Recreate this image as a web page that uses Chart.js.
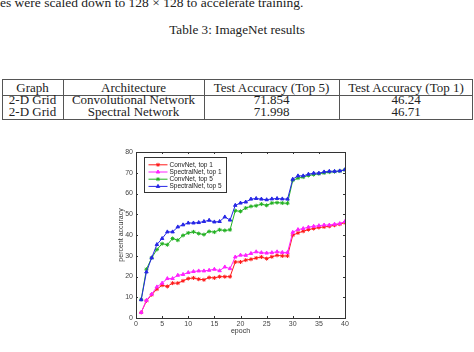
<!DOCTYPE html>
<html>
<head>
<meta charset="utf-8">
<script src="https://cdn.jsdelivr.net/npm/chart.js@4"></script>
<style>
body { margin:0; width:474px; height:352px; overflow:hidden; background:#fff; position:relative;
  font-family:"Liberation Serif","Times New Roman",serif; color:#222; }
.t { position:absolute; white-space:nowrap; font-size:13px; line-height:13px; }
.c { text-align:center; }
.hl { position:absolute; height:0; border-top:1px solid #555; left:2px; width:471px; }
.vl { position:absolute; width:0; border-left:1px solid #555; top:79px; height:40px; }
#chart { position:absolute; left:100px; top:140px; }
</style>
</head>
<body>
<div class="t" style="left:0; top:-4px; font-size:13.5px;">es were scaled down to 128 × 128 to accelerate training.</div>
<div class="t c" style="left:0; width:474px; top:23px; font-size:13.2px;">Table 3: ImageNet results</div>

<div class="hl" style="top:79px;"></div>
<div class="hl" style="top:95px;"></div>
<div class="hl" style="top:119px;"></div>
<div class="vl" style="left:2px;"></div>
<div class="vl" style="left:63px;"></div>
<div class="vl" style="left:204px;"></div>
<div class="vl" style="left:339px;"></div>
<div class="vl" style="left:472px;"></div>

<div class="t c" style="left:2px; width:61px; top:81px;">Graph</div>
<div class="t c" style="left:63px; width:141px; top:81px;">Architecture</div>
<div class="t c" style="left:204px; width:135px; top:81px;">Test Accuracy (Top 5)</div>
<div class="t c" style="left:339px; width:134px; top:81px;">Test Accuracy (Top 1)</div>

<div class="t c" style="left:2px; width:61px; top:93px;">2-D Grid</div>
<div class="t c" style="left:63px; width:141px; top:93px;">Convolutional Network</div>
<div class="t c" style="left:204px; width:135px; top:93px;">71.854</div>
<div class="t c" style="left:339px; width:134px; top:93px;">46.24</div>

<div class="t c" style="left:2px; width:61px; top:105px;">2-D Grid</div>
<div class="t c" style="left:63px; width:141px; top:105px;">Spectral Network</div>
<div class="t c" style="left:204px; width:135px; top:105px;">71.998</div>
<div class="t c" style="left:339px; width:134px; top:105px;">46.71</div>

<canvas id="chart" width="260" height="199"></canvas>

<script>
var epochs = [1, 2, 3, 4, 5, 6, 7, 8, 9, 10, 11, 12, 13, 14, 15, 16, 17, 18, 19, 20,
  21, 22, 23, 24, 25, 26, 27, 28, 29, 30, 31, 32, 33, 34, 35, 36, 37, 38, 39, 40];

var convTop1 = [2.7, 8.3, 11.2, 13.9, 15.8, 15.2, 16.8, 16.8, 17.9, 19.0,
  19.3, 18.7, 18.4, 19.5, 19.3, 19.9, 19.9, 19.9, 27.0, 27.0,
  27.9, 28.3, 28.9, 29.4, 28.6, 29.5, 30.2, 29.9, 29.9, 39.9,
  41.0, 41.8, 42.6, 43.1, 43.6, 43.9, 44.2, 44.7, 45.2, 46.0];

var specTop1 = [2.7, 8.5, 11.5, 15.0, 16.8, 19.0, 19.0, 20.6, 21.0, 21.9,
  22.4, 22.7, 22.7, 23.0, 23.5, 22.8, 24.6, 23.8, 29.4, 30.3,
  30.2, 31.1, 31.9, 31.5, 31.3, 31.5, 31.9, 31.6, 31.6, 41.3,
  42.6, 43.1, 43.8, 44.2, 44.5, 44.8, 44.8, 45.2, 45.5, 46.5];

var convTop5 = [9.0, 23.5, 29.0, 33.0, 35.8, 35.3, 38.3, 37.5, 39.8, 41.0,
  41.5, 40.7, 40.2, 41.7, 41.4, 42.5, 42.2, 42.5, 51.7, 51.4,
  53.0, 53.8, 54.1, 54.9, 54.3, 55.4, 55.6, 55.4, 55.3, 66.3,
  67.4, 67.9, 68.7, 69.1, 69.5, 69.9, 70.3, 70.5, 70.8, 71.4];

var specTop5 = [8.8, 22.2, 29.0, 35.4, 38.3, 41.5, 41.5, 43.9, 44.9, 45.8,
  45.8, 46.0, 46.5, 47.1, 46.3, 46.5, 48.7, 47.2, 54.3, 55.4,
  55.9, 57.3, 57.6, 57.3, 57.0, 57.4, 57.6, 57.4, 57.3, 66.9,
  68.5, 68.5, 69.3, 69.8, 69.8, 70.4, 70.7, 70.7, 70.9, 71.5];

var seriesLabels = ["ConvNet, top 1", "SpectralNet, top 1", "ConvNet, top 5", "SpectralNet, top 5"];
var seriesColors = ["#ff1a1a", "#ff22ff", "#22b022", "#2626e6"];
var seriesMarkers = ["star", "triangle", "star", "triangle"];
var seriesValues = [convTop1, specTop1, convTop5, specTop5];

function points(arr) {
  return epochs.map(function (e, i) { return { x: e, y: arr[i] }; });
}

var datasets = seriesValues.map(function (vals, i) {
  return {
    label: seriesLabels[i],
    data: points(vals),
    borderColor: seriesColors[i],
    backgroundColor: seriesColors[i],
    borderWidth: 1,
    pointStyle: seriesMarkers[i],
    pointRadius: 2,
    pointBorderWidth: 1,
    tension: 0,
    fill: false,
    order: 3 - i
  };
});

// box round the axes, inward ticks, and the legend inside the plot
var framePlugin = {
  id: "frame",
  afterDraw: function (chart) {
    var ctx = chart.ctx, a = chart.chartArea, sx = chart.scales.x, sy = chart.scales.y;
    ctx.save();
    ctx.strokeStyle = "#333";
    ctx.lineWidth = 1;
    ctx.strokeRect(Math.round(a.left) + 0.5, Math.round(a.top) + 0.5,
      Math.round(a.right - a.left), Math.round(a.bottom - a.top));
    ctx.beginPath();
    sx.ticks.forEach(function (t) {
      var px = Math.round(sx.getPixelForValue(t.value)) + 0.5;
      ctx.moveTo(px, a.bottom); ctx.lineTo(px, a.bottom - 2);
      ctx.moveTo(px, a.top); ctx.lineTo(px, a.top + 2);
    });
    sy.ticks.forEach(function (t) {
      var py = Math.round(sy.getPixelForValue(t.value)) + 0.5;
      ctx.moveTo(a.left, py); ctx.lineTo(a.left + 2, py);
      ctx.moveTo(a.right, py); ctx.lineTo(a.right - 2, py);
    });
    ctx.stroke();

    var bx = Math.round(a.left + 8) + 0.5, by = Math.round(a.top + 5) + 0.5;
    ctx.fillStyle = "#fff";
    ctx.fillRect(bx, by, 82, 35);
    ctx.strokeStyle = "#333";
    ctx.strokeRect(bx, by, 82, 35);
    ctx.font = "6.5px 'Liberation Sans', Arial, sans-serif";
    ctx.textBaseline = "middle";
    chart.data.datasets.forEach(function (ds, i) {
      var y = by + 7.3 + i * 7.2;
      ctx.strokeStyle = ds.borderColor;
      ctx.fillStyle = ds.backgroundColor;
      ctx.lineWidth = 1;
      ctx.beginPath();
      ctx.moveTo(bx + 4, y); ctx.lineTo(bx + 23, y);
      ctx.stroke();
      Chart.helpers.drawPoint(ctx, { pointStyle: ds.pointStyle, radius: 2, borderWidth: 1, rotation: 0 }, bx + 13.5, y);
      ctx.fillStyle = "#222";
      ctx.fillText(ds.label, bx + 25, y);
    });
    ctx.restore();
  }
};

var tickFont = { family: "'Liberation Sans', Arial, sans-serif", size: 7 };

new Chart(document.getElementById("chart"), {
  type: "line",
  data: { datasets: datasets },
  options: {
    responsive: false,
    animation: false,
    layout: { padding: { left: 0, top: 12, right: 15, bottom: 0 } },
    plugins: { legend: { display: false }, tooltip: { enabled: false } },
    scales: {
      x: {
        type: "linear",
        min: 0,
        max: 40,
        afterFit: function (s) { s.height = 21; },
        grid: { display: false, drawTicks: false },
        border: { display: false },
        ticks: { stepSize: 5, font: tickFont, color: "#444", padding: 2, maxRotation: 0 },
        title: { display: true, text: "epoch", font: tickFont, color: "#333", padding: { top: 0, bottom: 4 } }
      },
      y: {
        min: 0,
        max: 80,
        afterFit: function (s) { s.width = 36; },
        grid: { display: false, drawTicks: false },
        border: { display: false },
        ticks: { stepSize: 10, font: tickFont, color: "#444", padding: 3 },
        title: { display: true, text: "percent accuracy", font: tickFont, color: "#333", padding: { top: 17, bottom: 0 } }
      }
    }
  },
  plugins: [framePlugin]
});
</script>
</body>
</html>
